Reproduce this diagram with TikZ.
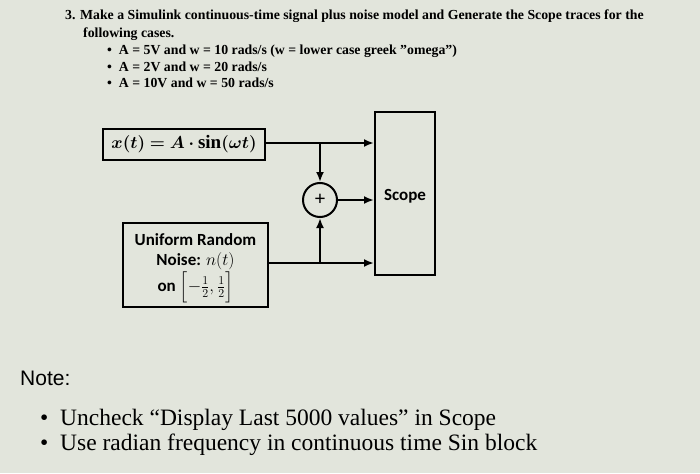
\documentclass[tikz,border=0pt]{standalone}
\usepackage{amsmath}
\usepackage{bm}
\usepackage{fontspec}
\setmainfont{Liberation Serif}
\newfontfamily\carfont{Carlito}
\newfontfamily\lsans{Liberation Sans}
\usetikzlibrary{arrows.meta}
\definecolor{bg}{RGB}{226,229,220}
\tikzset{blk/.style={draw,line width=2pt},
 wire/.style={line width=2pt,-{Latex[length=10pt,width=8pt]}},
 ntxt/.style={font=\carfont\bfseries\fontsize{17}{19}\selectfont,inner sep=0pt},
 top/.style={anchor=west,font=\bfseries\fontsize{13.8}{15}\selectfont,inner sep=0pt},
 bot/.style={anchor=west,font=\fontsize{23.5}{26}\selectfont,inner sep=0pt}}
\begin{document}
\begin{tikzpicture}[x=1pt,y=-1pt]
\fill[bg] (0,0) rectangle (700,473);
\useasboundingbox (0,0) rectangle (700,473);
\node[top] (l1) at (65,16) {3. Make a Simulink continuous-time signal plus noise model and Generate the Scope traces for the};
\node[top] (l2) at (83,34) {following cases.};
\node[top] (b1) at (107,51) {\textbullet\ \ A = 5V and w = 10 rads/s (w = lower case greek "omega")};
\node[top] (b2) at (107,67) {\textbullet\ \ A = 2V and w = 20 rads/s};
\node[top] (b3) at (107,83) {\textbullet\ \ A = 10V and w = 50 rads/s};
\node[blk,minimum width=162pt,minimum height=31pt,font=\fontsize{19}{21}\selectfont] (x) at (184,144.5) {$\bm{x(t) = A\cdot \sin(\omega t)}$};
\node[blk,minimum width=60pt,minimum height=163pt] (s) at (405,193.5) {};
\node[font=\carfont\bfseries\fontsize{17}{20}\selectfont] (sl) at (405,196) {Scope};
\node[blk,circle,minimum size=34pt,inner sep=0pt,font=\fontsize{20}{22}\selectfont\bfseries] (p) at (320,200) {+};
\node[blk,minimum width=145pt,minimum height=84pt] (n) at (195.5,265) {};
\node[ntxt] (n1t) at (195.5,240) {Uniform Random};
\node[ntxt] (n2t) at (195.5,261) {Noise: $n(t)$};
\node[ntxt] (n3t) at (195.5,287) {on $\Bigl[-\tfrac12,\tfrac12\Bigr]$};
\coordinate (t) at (320,143);
\coordinate (b) at (320,263);
\draw[wire] (x.east|-t) -- (s.west|-t);
\draw[wire] (n.east|-b) -- (s.west|-b);
\draw[wire] (t) -- (p.north);
\draw[wire] (b) -- (p.south);
\draw[wire] (p.east) -- (s.west|-p);
\node[anchor=west,font=\lsans\fontsize{21}{24}\selectfont,inner sep=0pt] (note) at (20,378) {Note:};
\node[bot] (n1) at (40,420) {\textbullet\ \ Uncheck “Display Last 5000 values” in Scope};
\node[bot] (n2) at (40,445) {\textbullet\ \ Use radian frequency in continuous time Sin block};
\end{tikzpicture}
\end{document}
